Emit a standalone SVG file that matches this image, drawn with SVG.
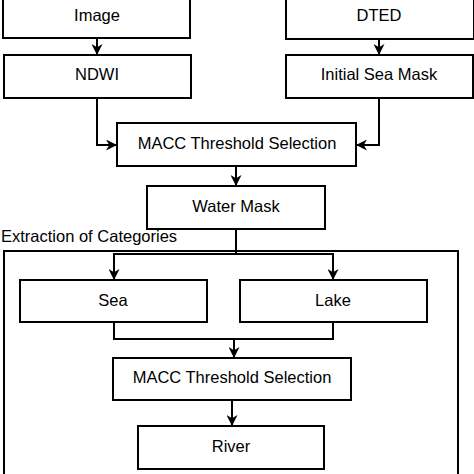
<svg xmlns="http://www.w3.org/2000/svg" width="474" height="474" viewBox="0 0 474 474">
<style>
.box{fill:#fff;stroke:#000;stroke-width:2}
.lbl{font-family:"Liberation Sans",Arial,sans-serif;font-size:16.5px;fill:#000;text-anchor:middle}
.con{fill:none;stroke:#000;stroke-width:2}
</style>
<defs>
<marker id="arr" viewBox="0 0 10 10" refX="10" refY="5" markerWidth="11" markerHeight="11" markerUnits="userSpaceOnUse" orient="auto">
<path d="M0,0 L10,5 L0,10 L3,5 Z" fill="#000"/>
</marker>
</defs>
<rect width="474" height="474" fill="#fff"/>
<g id="container">
<rect class="box" x="4" y="251" width="454" height="240"/>
<text class="lbl" x="1" y="242.3" style="text-anchor:start">Extraction of Categories</text>
</g>
<g id="connectors">
<path class="con" d="M97,38 V55" marker-end="url(#arr)"/>
<path class="con" d="M379,39 V55" marker-end="url(#arr)"/>
<path class="con" d="M97,98 V145 H117" marker-end="url(#arr)"/>
<path class="con" d="M379,98 V145 H356" marker-end="url(#arr)"/>
<path class="con" d="M236,166 V186" marker-end="url(#arr)"/>
<path class="con" d="M236,229 V254"/>
<path class="con" d="M236,254 H114 V280" marker-end="url(#arr)"/>
<path class="con" d="M236,254 H333 V280" marker-end="url(#arr)"/>
<path class="con" d="M114,322 V339 H333 V322"/>
<path class="con" d="M234,339 V358" marker-end="url(#arr)"/>
<path class="con" d="M232,400 V426" marker-end="url(#arr)"/>
</g>
<g id="image">
<rect class="box" x="3" y="-5" width="187" height="43"/>
<text class="lbl" x="97" y="21">Image</text>
</g>
<g id="dted">
<rect class="box" x="286" y="-5" width="188" height="44"/>
<text class="lbl" x="379" y="21">DTED</text>
</g>
<g id="ndwi">
<rect class="box" x="4" y="55" width="187" height="43"/>
<text class="lbl" x="97" y="80">NDWI</text>
</g>
<g id="initial-sea-mask">
<rect class="box" x="286" y="55" width="187" height="43"/>
<text class="lbl" x="379" y="80">Initial Sea Mask</text>
</g>
<g id="macc1">
<rect class="box" x="117" y="123" width="239" height="43"/>
<text class="lbl" x="237" y="149">MACC Threshold Selection</text>
</g>
<g id="water-mask">
<rect class="box" x="147" y="186" width="178" height="43"/>
<text class="lbl" x="236" y="212.3">Water Mask</text>
</g>
<g id="sea">
<rect class="box" x="20" y="280" width="187" height="42"/>
<text class="lbl" x="113" y="306">Sea</text>
</g>
<g id="lake">
<rect class="box" x="240" y="280" width="187" height="42"/>
<text class="lbl" x="333" y="306">Lake</text>
</g>
<g id="macc2">
<rect class="box" x="113" y="358" width="238" height="42"/>
<text class="lbl" x="232" y="383.3">MACC Threshold Selection</text>
</g>
<g id="river">
<rect class="box" x="138" y="426" width="186" height="43"/>
<text class="lbl" x="231" y="451.7">River</text>
</g>
</svg>
